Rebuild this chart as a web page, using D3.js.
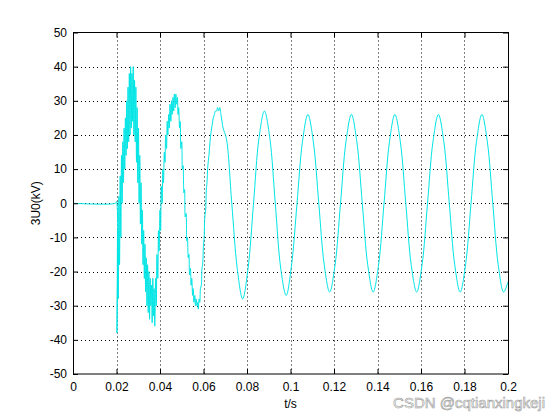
<!DOCTYPE html>
<html><head><meta charset="utf-8">
<script src="https://cdn.jsdelivr.net/npm/d3@7"></script>
<style>body{margin:0;background:#fff}text{font-family:"Liberation Sans",Arial,sans-serif}</style>
</head><body><svg id="c" width="560" height="420"></svg>
<script>
// samples (t in s, 3U0 in kV)
const tNoisy = [0,0.0195,0.0200,0.0202,0.0205,0.0208,0.0211,0.0214,0.0217,0.0220,0.0223,0.0226,0.0229,0.0232,0.0235,0.0238,0.0241,0.0244,0.0247,0.0250,0.0253,0.0256,0.0259,0.0262,0.0265,0.0268,0.0271,0.0274,0.0277,0.0280,0.0283,0.0286,0.0289,0.0292,0.0295,0.0298,0.0301,0.0304,0.0307,0.0310,0.0313,0.0316,0.0319,0.0322,0.0325,0.0328,0.0331,0.0334,0.0337,0.0340,0.0343,0.0346,0.0349,0.0352,0.0355,0.0358,0.0361,0.0364,0.0367,0.0370,0.0373,
  0.0376,0.0380,0.0383,0.0386,0.0390,0.0393,0.0396,0.0400,0.0403,0.0406,0.0410,0.0413,0.0416,0.0420,0.0423,0.0426,0.0430,0.0433,0.0436,0.0440,0.0443,0.0446,0.0450,0.0453,0.0456,0.0460,0.0463,0.0466,0.0470,0.0473,0.0476,0.0480,0.0483,0.0486,0.0490,0.0493,0.0496,0.0500,0.0503,0.0506,0.0510,0.0513,0.0516,0.0520,0.0523,0.0526,0.0530,0.0533,0.0536,0.0540,0.0543,0.0546,0.0550,0.0553,0.0556,0.0560,0.0563,0.0566,0.0570,0.0573,0.0576,0.0580,0.0583,0.0586,0.0590,0.0593,0.0596,0.0600,0.0603,0.0606,0.0610,0.0613,0.0616,0.0620,0.0625,0.0630,0.0635,0.0640,0.0645,0.0650,0.0655,0.0660,0.0665,0.0670,0.0675,0.0680,0.0685,0.0690];
const vNoisy = [0,0,0.5,-38,-8,-28,2,-18,8,-10,14,0,18,6,22,10,25,14,30,16,34,18,38,20,40,22,38,24,40,20,36,18,34,12,28,6,22,0,14,-6,6,-12,-2,-18,-8,-22,-12,-26,-16,-30,-18,-32,-20,-34,-22,-30,-24,-35,-22,-33,-25,
  -36,-22,-30,-15,-22,-8,-14,-2,-8,5,0,10,6,15,12,20,16,24,20,26,22,29,24,30,26,31,27,32,28,32,29,31,26,28,22,24,16,18,10,11,3,4,-4,-3,-11,-10,-16,-15,-21,-19,-24,-22,-27,-25,-29,-27,-30,-28,-30,-29,-31,-28,-29,-25,-24,-19,-18,-12,-10,-4,-2,4,6,11,14,18,21,23,25,26,27,27,28,27,28,26,24,22];
const tSteady = [0.0705,0.0730,0.0755,0.0780,0.0805,0.0830,0.0855,0.0880,0.0905,0.0930,0.0955,0.0980,0.1005,0.1030,0.1055,0.1080,0.1105,0.1130,0.1155,0.1180,0.1205,0.1230,0.1255,0.1280,0.1305,0.1330,0.1355,0.1380,0.1405,0.1430,0.1455,0.1480,0.1505,0.1530,0.1555,0.1580,0.1605,0.1630,0.1655,0.1680,0.1705,0.1730,0.1755,0.1780,0.1805,0.1830,0.1855,0.1880,0.1905,0.1930,0.1955,0.1980,0.2000];
const vSteady = [19,0,-19,-28,-19,0,19,27,19,0,-19,-27,-18,0,18,26,18,0,-18,-26,-18,0,18,26,18,0,-18,-26,-18,0,18,26,18,0,-18,-26,-18,0,18,26,18,0,-18,-26,-18,0,18,26,18,0,-18,-26,-23];
const xTicks = [0,0.02,0.04,0.06,0.08,0.1,0.12,0.14,0.16,0.18,0.2];
const yTicks = [-50,-40,-30,-20,-10,0,10,20,30,40,50];

const svg = d3.select("#c");
const L = 73, R = 508, T = 32.5, B = 374;
const x = d3.scaleLinear().domain([0, 0.2]).range([L, R]);
const y = d3.scaleLinear().domain([-50, 50]).range([B, T]);

// grid
const g = svg.append("g").attr("stroke", "#000").attr("stroke-width", 1).attr("stroke-dasharray", "1,3");
g.selectAll(".gx").data(xTicks.slice(1, -1)).join("line")
  .attr("x1", d => Math.round(x(d)) + 0.5).attr("x2", d => Math.round(x(d)) + 0.5).attr("y1", T).attr("y2", B);
g.selectAll(".gy").data(yTicks.slice(1, -1)).join("line")
  .attr("y1", d => Math.round(y(d)) + 0.5).attr("y2", d => Math.round(y(d)) + 0.5).attr("x1", L).attr("x2", R);

// signal
const pts = tNoisy.map((t, i) => [t, vNoisy[i]]).concat(tSteady.map((t, i) => [t, vSteady[i]]));
svg.append("path").datum(pts)
  .attr("fill", "none").attr("stroke", "#00e5e5").attr("stroke-width", 1)
  .attr("d", d3.line().x(d => x(d[0])).y(d => y(d[1])).curve(d3.curveCatmullRom));

// axes (MATLAB style: inward ticks, box)
const fmtX = d => d === 0 ? "0" : String(+d.toFixed(2));
const fmtY = d => String(d);
const ax = svg.append("g").attr("transform", `translate(0,${B})`)
  .call(d3.axisBottom(x).tickValues(xTicks).tickSizeInner(-5).tickSizeOuter(0).tickPadding(8).tickFormat(fmtX));
const ay = svg.append("g").attr("transform", `translate(${L},0)`)
  .call(d3.axisLeft(y).tickValues(yTicks).tickSizeInner(-5).tickSizeOuter(0).tickPadding(6).tickFormat(fmtY));
[ax, ay].forEach(a => { a.select(".domain").remove(); a.selectAll("text").attr("font-size", 12).attr("font-family", "Liberation Sans, Arial").attr("fill", "#000"); });
svg.append("g").attr("transform", `translate(0,${T})`)
  .call(d3.axisTop(x).tickValues(xTicks).tickSizeInner(-5).tickSizeOuter(0).tickFormat("")).select(".domain").remove();
svg.append("g").attr("transform", `translate(${R},0)`)
  .call(d3.axisRight(y).tickValues(yTicks).tickSizeInner(-5).tickSizeOuter(0).tickFormat("")).select(".domain").remove();
svg.append("rect").attr("x", L + 0.5).attr("y", T).attr("width", R - L).attr("height", B - T)
  .attr("fill", "none").attr("stroke", "#000");

svg.append("text").attr("x", (L + R) / 2).attr("y", 408).attr("text-anchor", "middle").attr("font-size", 12).text("t/s");
svg.append("text").attr("transform", `translate(40,${(T + B) / 2}) rotate(-90)`).attr("text-anchor", "middle").attr("font-size", 12).text("3U0(kV)");

svg.append("text").attr("x", 545).attr("y", 408).attr("text-anchor", "end").attr("font-size", 15)
  .attr("fill", "#fff").attr("stroke", "#999").attr("stroke-width", 0.6).text("CSDN @cqtianxingkeji");
</script></body></html>
